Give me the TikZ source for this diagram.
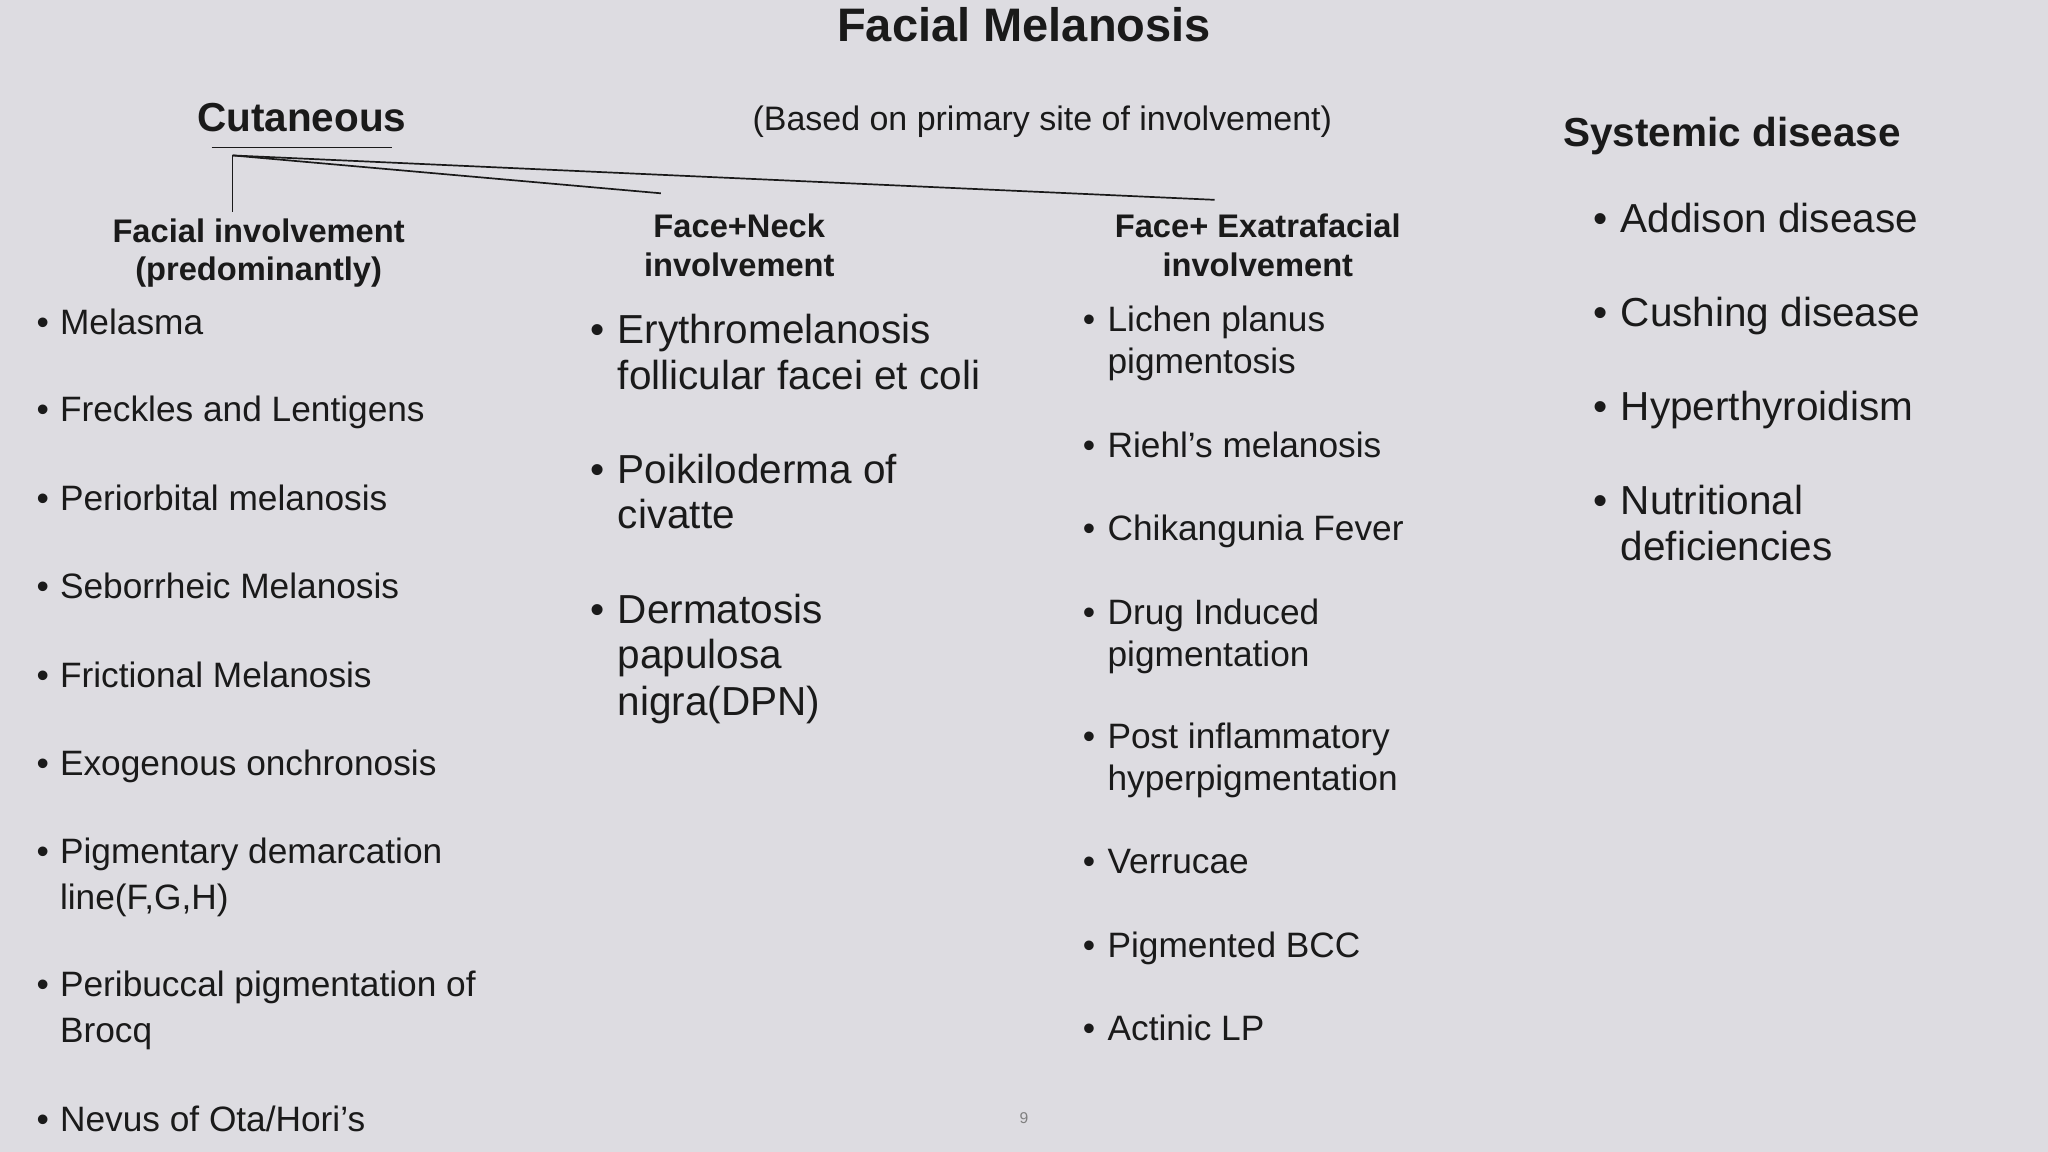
\documentclass[tikz,border=0pt]{standalone}
\usepackage{fontspec}
\setmainfont{Liberation Sans}
\definecolor{bg}{HTML}{DDDCE1}
\definecolor{ink}{HTML}{1A1A1A}
\newcommand\MyItem[6]{%
  \node[anchor=base west,#1] (#2b) at (#3,#5) {•};
  \node[anchor=base west,#1] (#2) at (#4,#5) {#6};}
\begin{document}
\begin{tikzpicture}[x=1pt,y=-1pt,
  every node/.style={inner sep=0pt,outer sep=0pt,text=ink},
  sm/.style={font=\fontsize{27}{30}\selectfont},
  lg/.style={font=\fontsize{31}{35}\selectfont},
  hd/.style={font=\bfseries\fontsize{25}{29}\selectfont,anchor=base},
  conn/.style={draw=ink,line width=1.3pt}]
\fill[bg] (0,0) rectangle (1568,882);
\useasboundingbox (0,0) rectangle (1568,882);
\node[anchor=base,font=\bfseries\fontsize{36}{40}\selectfont] (title) at (784,32) {Facial Melanosis};
\node[anchor=base,font=\bfseries\fontsize{31}{35}\selectfont] (cut) at (231,101) {Cutaneous};
\node[anchor=base,font=\fontsize{26}{30}\selectfont] (based) at (798,100) {(Based on primary site of involvement)};
\node[anchor=base west,font=\bfseries\fontsize{31}{35}\selectfont] (sys) at (1197,112) {Systemic disease};
\draw[conn] (162,113) -- (300,113);
\coordinate (hub) at (178,119);
\coordinate (e1) at (178,162);
\coordinate (e2) at (506,148);
\coordinate (e3) at (930,153);
\node[hd] (h1a) at (198,186) {Facial involvement};
\node[hd] (h1b) at (198,215) {(predominantly)};
\node[hd] (h2a) at (566,182) {Face+Neck};
\node[hd] (h2b) at (566,212) {involvement};
\node[hd] (h3a) at (963,182) {Face+ Exatrafacial};
\node[hd] (h3b) at (963,212) {involvement};
\draw[conn] (hub) -- (e1);
\draw[conn] (hub) -- (e2);
\draw[conn] (hub) -- (e3);
% column 1
\MyItem{sm}{a1}{28}{46}{256}{Melasma}
\MyItem{sm}{a2}{28}{46}{323}{Freckles and Lentigens}
\MyItem{sm}{a3}{28}{46}{391}{Periorbital melanosis}
\MyItem{sm}{a4}{28}{46}{458}{Seborrheic Melanosis}
\MyItem{sm}{a5}{28}{46}{526}{Frictional Melanosis}
\MyItem{sm}{a6}{28}{46}{594}{Exogenous onchronosis}
\MyItem{sm}{a7}{28}{46}{661}{Pigmentary demarcation}
\node[anchor=base west,sm] (a7c) at (46,696) {line(F,G,H)};
\MyItem{sm}{a8}{28}{46}{763}{Peribuccal pigmentation of}
\node[anchor=base west,sm] (a8c) at (46,798) {Brocq};
\MyItem{sm}{a9}{28}{46}{866}{Nevus of Ota/Hori’s}
% column 2
\MyItem{lg}{b1}{452}{473}{263}{Erythromelanosis}
\node[anchor=base west,lg] (b1c) at (473,298) {follicular facei et coli};
\MyItem{lg}{b2}{452}{473}{370}{Poikiloderma of}
\node[anchor=base west,lg] (b2c) at (473,405) {civatte};
\MyItem{lg}{b3}{452}{473}{477}{Dermatosis}
\node[anchor=base west,lg] (b3c) at (473,512) {papulosa};
\node[anchor=base west,lg] (b3d) at (473,548) {nigra(DPN)};
% column 3
\MyItem{sm}{c1}{829}{848}{254}{Lichen planus}
\node[anchor=base west,sm] (c1c) at (848,286) {pigmentosis};
\MyItem{sm}{c2}{829}{848}{350}{Riehl’s melanosis}
\MyItem{sm}{c3}{829}{848}{414}{Chikangunia Fever}
\MyItem{sm}{c4}{829}{848}{478}{Drug Induced}
\node[anchor=base west,sm] (c4c) at (848,510) {pigmentation};
\MyItem{sm}{c5}{829}{848}{573}{Post inflammatory}
\node[anchor=base west,sm] (c5c) at (848,605) {hyperpigmentation};
\MyItem{sm}{c6}{829}{848}{669}{Verrucae}
\MyItem{sm}{c7}{829}{848}{733}{Pigmented BCC}
\MyItem{sm}{c8}{829}{848}{797}{Actinic LP}
% column 4
\MyItem{lg}{d1}{1220}{1241}{178}{Addison disease}
\MyItem{lg}{d2}{1220}{1241}{250}{Cushing disease}
\MyItem{lg}{d3}{1220}{1241}{322}{Hyperthyroidism}
\MyItem{lg}{d4}{1220}{1241}{394}{Nutritional}
\node[anchor=base west,lg] (d4c) at (1241,429) {deficiencies};
\node[anchor=base,font=\fontsize{12}{14}\selectfont,text=gray] (pg) at (784,860) {9};
\end{tikzpicture}
\end{document}
